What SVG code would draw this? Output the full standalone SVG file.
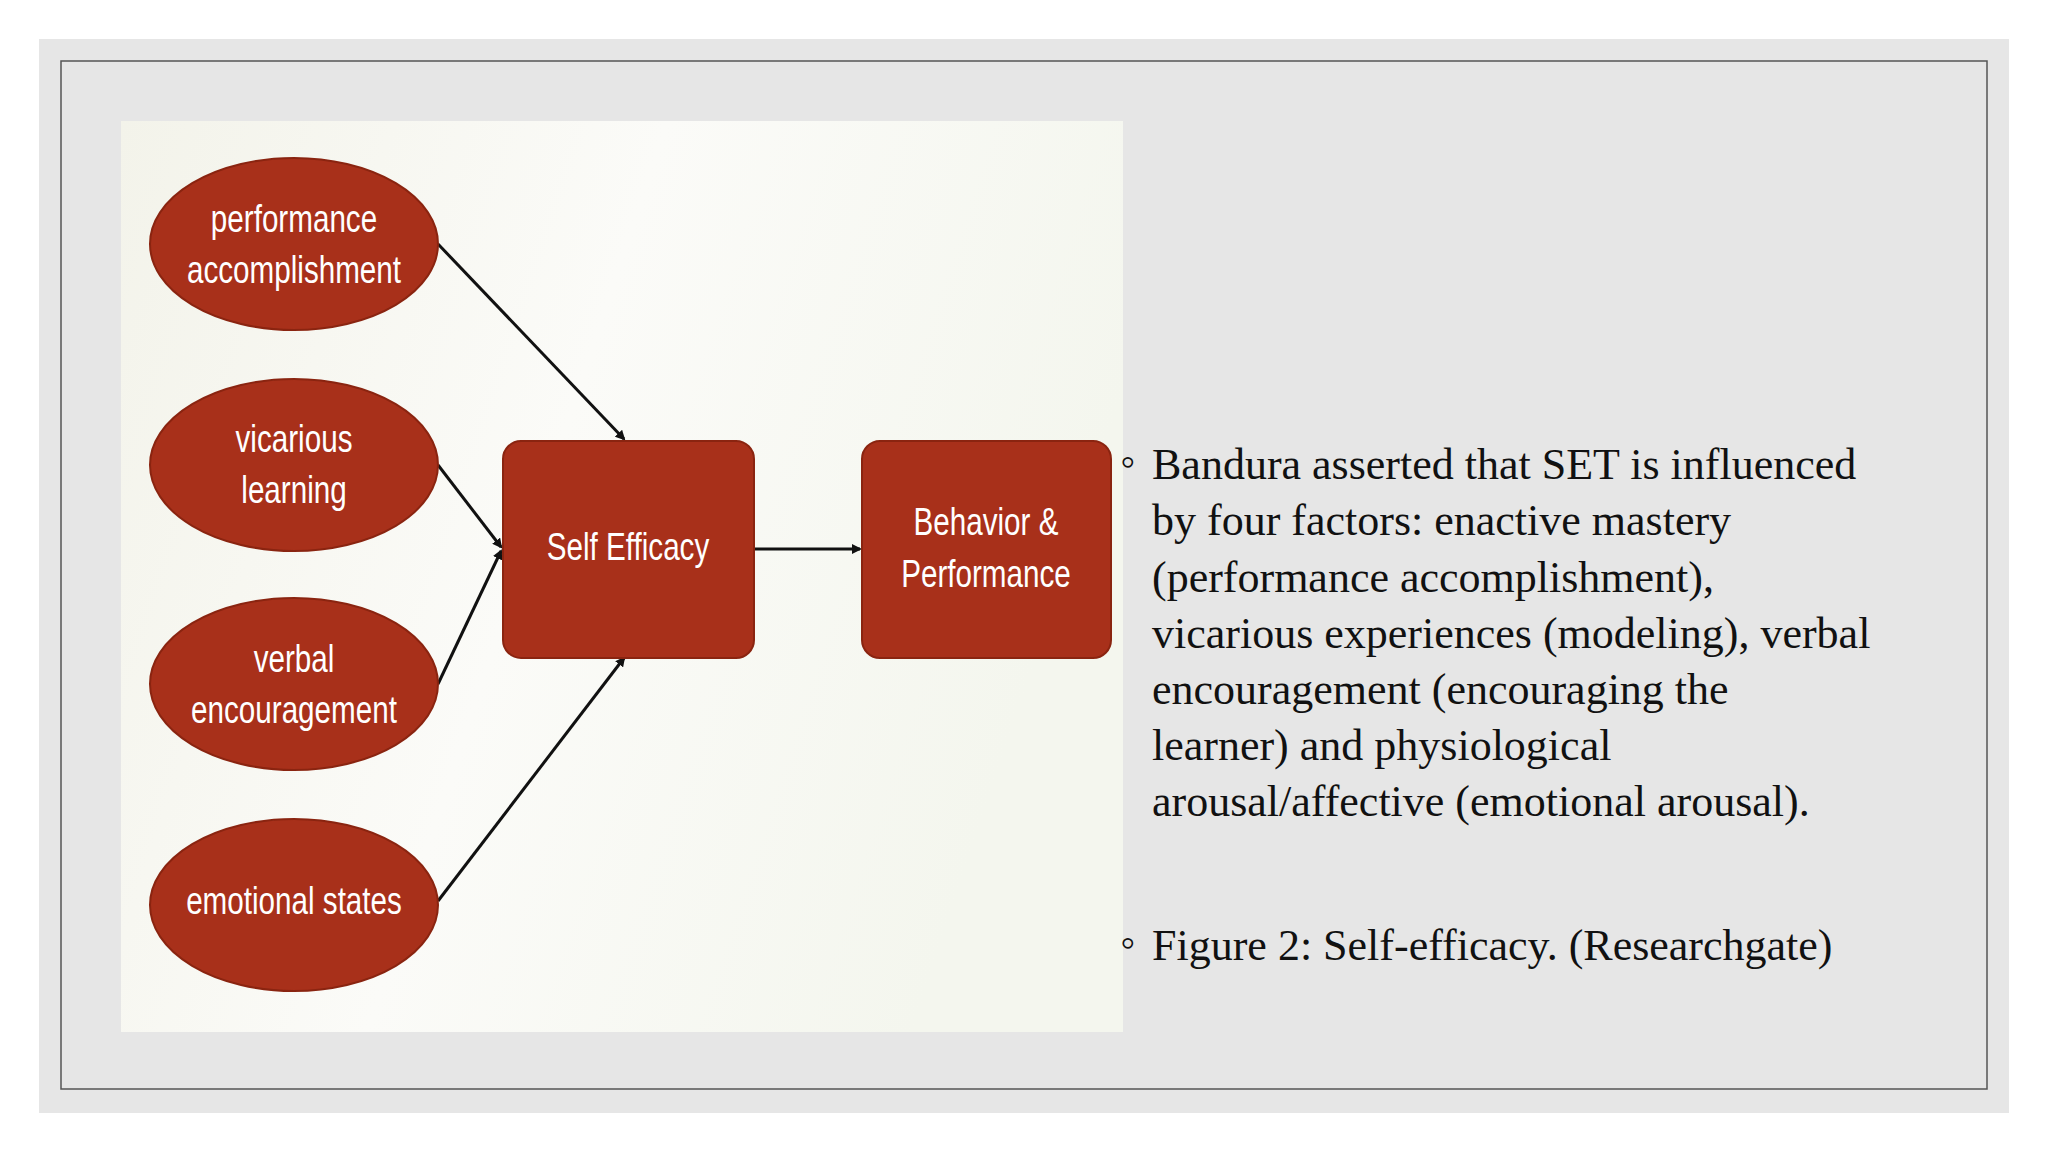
<svg xmlns="http://www.w3.org/2000/svg" width="2048" height="1152" viewBox="0 0 2048 1152">
<defs>
<linearGradient id="bg" x1="0" y1="0" x2="1" y2="0.3">
<stop offset="0" stop-color="#f3f3ea"/><stop offset="0.5" stop-color="#fbfbf8"/><stop offset="1" stop-color="#f4f6ee"/>
</linearGradient>
<marker id="ah" markerWidth="10" markerHeight="10" refX="8" refY="5" orient="auto" markerUnits="userSpaceOnUse"><path d="M0,0 L10,5 L0,10 z" fill="#111"/></marker>
<style>
.n{fill:#a8301a;stroke:#8a2410;stroke-width:2}
.t{fill:#fff;font-family:"Liberation Sans",Arial,sans-serif;font-size:38px;text-anchor:middle}
.c{stroke:#111;stroke-width:3;fill:none;marker-end:url(#ah)}
.b{font-family:"Liberation Serif","Times New Roman",serif;font-size:44px;fill:#111}
</style>
</defs>
<rect width="2048" height="1152" fill="#fff"/>
<rect x="39" y="39" width="1970" height="1074" fill="#e6e6e6"/>
<rect x="61" y="61" width="1926" height="1028" fill="none" stroke="#555" stroke-width="1.5"/>
<rect x="121" y="121" width="1002" height="911" fill="url(#bg)"/>
<g id="connectors">
<line class="c" x1="438" y1="244" x2="624" y2="439"/>
<line class="c" x1="438" y1="465" x2="501" y2="547"/>
<line class="c" x1="438" y1="684" x2="501" y2="551"/>
<line class="c" x1="438" y1="901" x2="624" y2="658"/>
<line class="c" x1="754" y1="549" x2="860" y2="549" stroke-width="4"/>
</g>
<g id="n1"><ellipse class="n" cx="294" cy="244" rx="144" ry="86"/><text class="t" transform="translate(294,0) scale(0.78,1)"><tspan x="0" y="232">performance</tspan><tspan x="0" y="283">accomplishment</tspan></text></g>
<g id="n2"><ellipse class="n" cx="294" cy="465" rx="144" ry="86"/><text class="t" transform="translate(294,0) scale(0.78,1)"><tspan x="0" y="452">vicarious</tspan><tspan x="0" y="503">learning</tspan></text></g>
<g id="n3"><ellipse class="n" cx="294" cy="684" rx="144" ry="86"/><text class="t" transform="translate(294,0) scale(0.78,1)"><tspan x="0" y="672">verbal</tspan><tspan x="0" y="723">encouragement</tspan></text></g>
<g id="n4"><ellipse class="n" cx="294" cy="905" rx="144" ry="86"/><text class="t" transform="translate(294,0) scale(0.78,1)"><tspan x="0" y="914">emotional states</tspan></text></g>
<g id="n5"><rect class="n" x="503" y="441" width="251" height="217" rx="18"/><text class="t" transform="translate(628,0) scale(0.78,1)"><tspan x="0" y="560">Self Efficacy</tspan></text></g>
<g id="n6"><rect class="n" x="862" y="441" width="249" height="217" rx="18"/><text class="t" transform="translate(986,0) scale(0.78,1)"><tspan x="0" y="535">Behavior &amp;</tspan><tspan x="0" y="587">Performance</tspan></text></g>
<g id="text">
<text class="b" x="1120" y="476" font-size="30">◦</text>
<text class="b" x="1152"><tspan x="1152" y="479">Bandura asserted that SET is influenced</tspan><tspan x="1152" y="535">by four factors: enactive mastery</tspan><tspan x="1152" y="592">(performance accomplishment),</tspan><tspan x="1152" y="648">vicarious experiences (modeling), verbal</tspan><tspan x="1152" y="704">encouragement (encouraging the</tspan><tspan x="1152" y="760">learner) and physiological</tspan><tspan x="1152" y="816">arousal/affective (emotional arousal).</tspan></text>
<text class="b" x="1120" y="957" font-size="30">◦</text>
<text class="b" x="1152" y="960">Figure 2: Self-efficacy. (Researchgate)</text>
</g>
</svg>
